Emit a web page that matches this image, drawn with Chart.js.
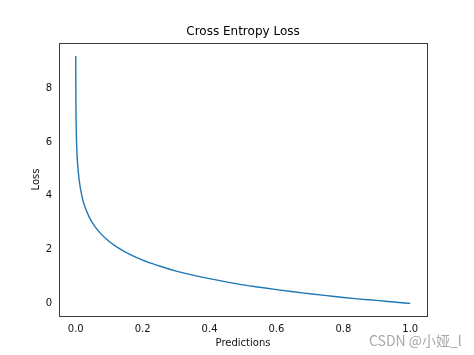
<!DOCTYPE html>
<html><head><meta charset="utf-8">
<script src="https://cdn.jsdelivr.net/npm/chart.js@4/dist/chart.umd.min.js"></script>
<style>html,body{margin:0;padding:0;background:#fff}#wrap{width:474px;height:355px}</style>
</head><body><div id="wrap"><canvas id="c" width="474" height="355"></canvas></div>
<script>
const predictions = [0.0001,0.0002,0.0005,0.001,0.002,0.003,0.005,0.01,0.02,0.03,0.04,0.05,0.07,0.1,0.12,0.15,0.2,0.25,0.3,0.35,0.4,0.45,0.5,0.55,0.6,0.65,0.7,0.75,0.8,0.85,0.9,0.95,1.0];
const lossValues  = [9.21,8.52,7.60,6.91,6.21,5.81,5.30,4.61,3.91,3.51,3.22,3.00,2.66,2.30,2.12,1.90,1.61,1.39,1.20,1.05,0.92,0.80,0.69,0.60,0.51,0.43,0.36,0.29,0.22,0.16,0.11,0.05,0.00];
const xTicks = [0.0,0.2,0.4,0.6,0.8,1.0];
const yTicks = [0,2,4,6,8];
const titleText = 'Cross Entropy Loss';
const xLabel = 'Predictions';
const yLabel = 'Loss';
const watermark = 'CSDN @小娅_l';

const points = predictions.map((x,i)=>({x:x,y:lossValues[i]}));
const FONT = "'DejaVu Sans', sans-serif";
const EDGE = '#3a3a3a';

const framePlugin = {
  id:'frame',
  afterDraw(chart){
    const a = chart.chartArea, ctx = chart.ctx;
    ctx.save();
    ctx.strokeStyle = EDGE; ctx.lineWidth = 1;
    ctx.strokeRect(Math.round(a.left)+0.5, Math.round(a.top)+0.5, Math.round(a.right-a.left), Math.round(a.bottom-a.top));
    ctx.fillStyle = '#000';
    ctx.font = "12px " + FONT;
    ctx.textAlign = 'center'; ctx.textBaseline = 'middle';
    ctx.fillText(titleText, (a.left+a.right)/2, 32);
    ctx.fillStyle = '#a8a8a8';
    ctx.font = "14px 'Noto Sans CJK SC', 'DejaVu Sans', sans-serif";
    ctx.textAlign = 'left';
    ctx.fillText(watermark, 369, 341);
    ctx.restore();
  }
};

new Chart(document.getElementById('c'), {
  type:'line',
  data:{datasets:[{data:points, borderColor:'#1f77b4', borderWidth:1.4, pointRadius:0, cubicInterpolationMode:'monotone', fill:false}]},
  options:{
    responsive:false, animation:false, devicePixelRatio:1,
    layout:{padding:{left:28,right:47,top:43,bottom:0}},
    plugins:{ legend:{display:false}, tooltip:{enabled:false}, title:{display:false} },
    scales:{
      x:{type:'linear', min:-0.05, max:1.05,
        afterBuildTicks(s){ s.ticks = xTicks.map(v=>({value:v})); },
        afterFit(s){ s.height = 39; },
        grid:{display:false, drawOnChartArea:false, drawTicks:true, tickLength:4, tickColor:EDGE},
        border:{display:true, color:EDGE},
        ticks:{color:'#111', font:{family:FONT,size:10}, padding:3, maxRotation:0, callback:v=>v.toFixed(1)},
        title:{display:true, text:xLabel, color:'#111', font:{family:FONT,size:10}, padding:{top:2,bottom:6}}
      },
      y:{type:'linear', min:-0.47, max:9.69,
        afterBuildTicks(s){ s.ticks = yTicks.map(v=>({value:v})); },
        afterFit(s){ s.width = 31; },
        grid:{display:false, drawOnChartArea:false, drawTicks:true, tickLength:4, tickColor:EDGE},
        border:{display:true, color:EDGE},
        ticks:{color:'#111', font:{family:FONT,size:10}, padding:3, callback:v=>String(v)},
        title:{display:true, text:yLabel, color:'#111', font:{family:FONT,size:10}, padding:{top:2,bottom:0}}
      }
    }
  },
  plugins:[framePlugin]
});
</script></body></html>
